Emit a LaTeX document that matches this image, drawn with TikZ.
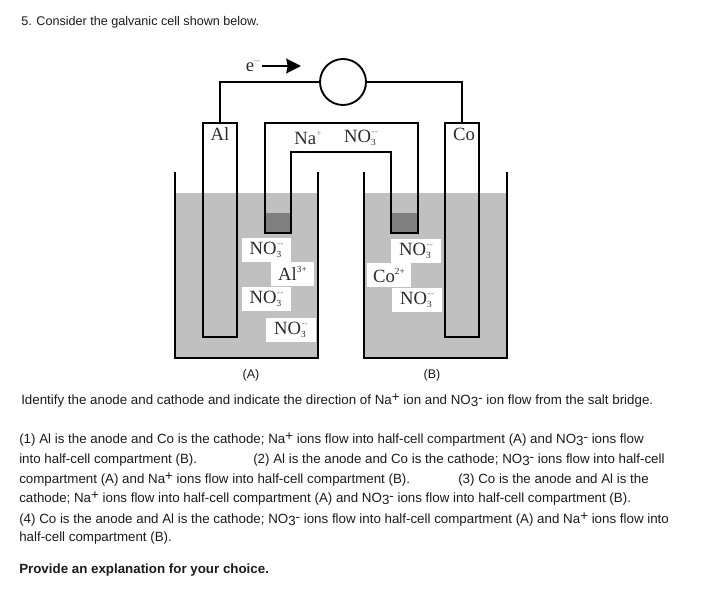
\documentclass[tikz,border=0pt]{standalone}
\usepackage{fontspec}
\setmainfont{Liberation Sans}
\newfontfamily\cellfont{Liberation Serif}
\usetikzlibrary{arrows.meta}
\definecolor{soln}{HTML}{C0C0C0}
\definecolor{plug}{HTML}{808080}
\definecolor{quest}{HTML}{1A1A1A}
\definecolor{ink}{HTML}{2A2A2A}
\newcommand{\lowtxt}[1]{\raisebox{-2.2pt}{\fontsize{7}{7}\selectfont #1}}
\newcommand{\uptxt}[1]{\raisebox{6pt}{\fontsize{7}{7}\selectfont #1}}
\newcommand{\nitrate}{NO\lowtxt{3}\kern-3pt\uptxt{\textcolor{gray}{--}}}
\newcommand{\qna}{Na\raisebox{2.2pt}{+}}
\newcommand{\qno}{NO\raisebox{-1.8pt}{3}\raisebox{1pt}{-}}
\tikzset{
    wire/.style={line width=1.4pt,black},
    ionbox/.style={fill=white,inner sep=0pt,minimum width=37pt,minimum height=18pt,font=\cellfont\fontsize{14}{14}\selectfont,text=ink},
    celltxt/.style={inner sep=0pt,font=\cellfont\fontsize{14}{14}\selectfont,text=ink},
    rod/.style={draw,line width=1.4pt,minimum width=26pt,minimum height=160.5pt,inner sep=0pt},
    qline/.style={anchor=base west,inner sep=0pt,font=\fontsize{10}{11}\selectfont,text=quest},
    tag/.style={inner sep=0pt,font=\fontsize{9.4}{10}\selectfont,text=quest}
}
\begin{document}
\begin{tikzpicture}[x=0.75pt,y=-0.75pt]
\useasboundingbox (0,0) rectangle (706,600);
% solution
\fill[soln] (175,193) rectangle (318,358);
\fill[soln] (364,193) rectangle (507,358);
% plugs
\fill[plug] (265,213) rectangle (291,233);
\fill[plug] (391,213) rectangle (418,233);
% beakers
\draw[wire] (175,172) -- (175,358) -- (318,358) -- (318,172);
\draw[wire] (364,172) -- (364,358) -- (507,358) -- (507,172);
% bridge
\draw[wire] (265,233) -- (265,123) -- (418,123) -- (418,233) -- (391,233) -- (391,152) -- (291,152) -- (291,233) -- cycle;
% rods and meter
\node[rod] (alrod) at (220,230) {};
\node[rod] (corod) at (462,230) {};
\node[draw,circle,line width=1.4pt,fill=white,minimum size=34.5pt,inner sep=0pt] (meter) at (343,82) {};
\draw[wire] (meter.west) -| (alrod.north);
\draw[wire] (meter.east) -| (corod.north);
\node[celltxt] (allabel) at (220,134) {Al};
\node[celltxt] (colabel) at (464,134) {Co};
\node[celltxt] (nalabel) at (308,138) {Na\uptxt{\textcolor{gray}{+}}};
\node[celltxt] (nolabel) at (361,138) {\nitrate};
\node[celltxt] (elabel) at (253,66) {e\uptxt{\textcolor{gray}{--}}};
\coordinate (etip) at (301,66);
\draw[line width=1.5pt,shorten <=1pt,-{Stealth[length=11pt,width=11pt,inset=1pt]}] (elabel.east) -- (etip);
% ions
\foreach \x/\y/\nm in {266.5/249.5/noa,266.5/299/nob,291/330/noc,416/250.5/nod,417/299.5/noe} {
    \node[ionbox] (\nm) at (\x,\y) {\nitrate};
}
\node[ionbox,minimum width=32pt] (allion) at (292.5,273.5) {Al\uptxt{3+}};
\node[ionbox,minimum width=33pt] (coion) at (389,275) {Co\uptxt{2+}};
\node[tag] (taga) at (251,375) {(A)};
\node[tag] (tagb) at (432,375) {(B)};
% question
\node[qline,font=\fontsize{9.45}{11}\selectfont] (head) at (21,25) {5. Consider the galvanic cell shown below.};
\node[qline] (ask) at (21,404) {Identify the anode and cathode and indicate the direction of \qna{} ion and \qno{} ion flow from the salt bridge.};
\node[qline] (ansa) at (19,443) {(1) Al is the anode and Co is the cathode; \qna{} ions flow into half-cell compartment (A) and \qno{} ions flow};
\node[qline] (ansb) at (19,463) {into half-cell compartment (B).};
\node[qline] (ansc) at (253,463) {(2) Al is the anode and Co is the cathode; \qno{} ions flow into half-cell};
\node[qline] (ansd) at (19,483) {compartment (A) and \qna{} ions flow into half-cell compartment (B).};
\node[qline] (anse) at (458,483) {(3) Co is the anode and Al is the};
\node[qline] (ansf) at (19,502) {cathode; \qna{} ions flow into half-cell compartment (A) and \qno{} ions flow into half-cell compartment (B).};
\node[qline] (ansg) at (19,523) {(4) Co is the anode and Al is the cathode; \qno{} ions flow into half-cell compartment (A) and \qna{} ions flow into};
\node[qline] (ansh) at (19,541) {half-cell compartment (B).};
\node[qline,font=\bfseries\fontsize{10}{11}\selectfont] (provide) at (19,573) {Provide an explanation for your choice.};
\end{tikzpicture}
\end{document}
